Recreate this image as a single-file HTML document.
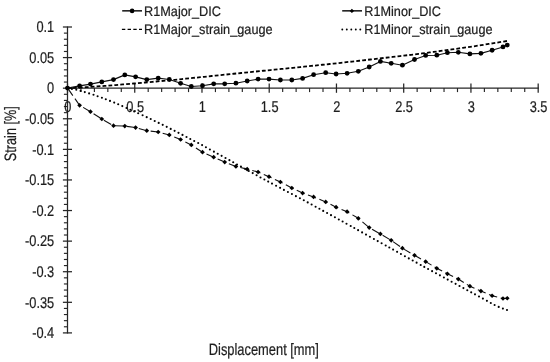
<!DOCTYPE html>
<html><head><meta charset="utf-8"><style>
html,body{margin:0;padding:0;background:#fff;}
svg{display:block;} text{text-rendering:geometricPrecision;}
</style></head><body>
<svg width="550" height="362" viewBox="0 0 550 362">
<rect width="550" height="362" fill="#fff"/>
<line x1="67.5" y1="26.40" x2="67.5" y2="333.50" stroke="#262626" stroke-width="1.25"/>
<line x1="67" y1="88" x2="538.78" y2="88" stroke="#262626" stroke-width="1.25"/>
<line x1="62.9" y1="27.00" x2="72" y2="27.00" stroke="#262626" stroke-width="1.25"/>
<line x1="63.9" y1="33.12" x2="67.5" y2="33.12" stroke="#262626" stroke-width="1.15"/>
<line x1="63.9" y1="39.24" x2="67.5" y2="39.24" stroke="#262626" stroke-width="1.15"/>
<line x1="63.9" y1="45.35" x2="67.5" y2="45.35" stroke="#262626" stroke-width="1.15"/>
<line x1="63.9" y1="51.47" x2="67.5" y2="51.47" stroke="#262626" stroke-width="1.15"/>
<line x1="62.9" y1="57.59" x2="72" y2="57.59" stroke="#262626" stroke-width="1.25"/>
<line x1="63.9" y1="63.71" x2="67.5" y2="63.71" stroke="#262626" stroke-width="1.15"/>
<line x1="63.9" y1="69.83" x2="67.5" y2="69.83" stroke="#262626" stroke-width="1.15"/>
<line x1="63.9" y1="75.94" x2="67.5" y2="75.94" stroke="#262626" stroke-width="1.15"/>
<line x1="63.9" y1="82.06" x2="67.5" y2="82.06" stroke="#262626" stroke-width="1.15"/>
<line x1="62.9" y1="88.18" x2="72" y2="88.18" stroke="#262626" stroke-width="1.25"/>
<line x1="63.9" y1="94.30" x2="67.5" y2="94.30" stroke="#262626" stroke-width="1.15"/>
<line x1="63.9" y1="100.42" x2="67.5" y2="100.42" stroke="#262626" stroke-width="1.15"/>
<line x1="63.9" y1="106.53" x2="67.5" y2="106.53" stroke="#262626" stroke-width="1.15"/>
<line x1="63.9" y1="112.65" x2="67.5" y2="112.65" stroke="#262626" stroke-width="1.15"/>
<line x1="62.9" y1="118.77" x2="72" y2="118.77" stroke="#262626" stroke-width="1.25"/>
<line x1="63.9" y1="124.89" x2="67.5" y2="124.89" stroke="#262626" stroke-width="1.15"/>
<line x1="63.9" y1="131.01" x2="67.5" y2="131.01" stroke="#262626" stroke-width="1.15"/>
<line x1="63.9" y1="137.12" x2="67.5" y2="137.12" stroke="#262626" stroke-width="1.15"/>
<line x1="63.9" y1="143.24" x2="67.5" y2="143.24" stroke="#262626" stroke-width="1.15"/>
<line x1="62.9" y1="149.36" x2="72" y2="149.36" stroke="#262626" stroke-width="1.25"/>
<line x1="63.9" y1="155.48" x2="67.5" y2="155.48" stroke="#262626" stroke-width="1.15"/>
<line x1="63.9" y1="161.60" x2="67.5" y2="161.60" stroke="#262626" stroke-width="1.15"/>
<line x1="63.9" y1="167.71" x2="67.5" y2="167.71" stroke="#262626" stroke-width="1.15"/>
<line x1="63.9" y1="173.83" x2="67.5" y2="173.83" stroke="#262626" stroke-width="1.15"/>
<line x1="62.9" y1="179.95" x2="72" y2="179.95" stroke="#262626" stroke-width="1.25"/>
<line x1="63.9" y1="186.07" x2="67.5" y2="186.07" stroke="#262626" stroke-width="1.15"/>
<line x1="63.9" y1="192.19" x2="67.5" y2="192.19" stroke="#262626" stroke-width="1.15"/>
<line x1="63.9" y1="198.30" x2="67.5" y2="198.30" stroke="#262626" stroke-width="1.15"/>
<line x1="63.9" y1="204.42" x2="67.5" y2="204.42" stroke="#262626" stroke-width="1.15"/>
<line x1="62.9" y1="210.54" x2="72" y2="210.54" stroke="#262626" stroke-width="1.25"/>
<line x1="63.9" y1="216.66" x2="67.5" y2="216.66" stroke="#262626" stroke-width="1.15"/>
<line x1="63.9" y1="222.78" x2="67.5" y2="222.78" stroke="#262626" stroke-width="1.15"/>
<line x1="63.9" y1="228.89" x2="67.5" y2="228.89" stroke="#262626" stroke-width="1.15"/>
<line x1="63.9" y1="235.01" x2="67.5" y2="235.01" stroke="#262626" stroke-width="1.15"/>
<line x1="62.9" y1="241.13" x2="72" y2="241.13" stroke="#262626" stroke-width="1.25"/>
<line x1="63.9" y1="247.25" x2="67.5" y2="247.25" stroke="#262626" stroke-width="1.15"/>
<line x1="63.9" y1="253.37" x2="67.5" y2="253.37" stroke="#262626" stroke-width="1.15"/>
<line x1="63.9" y1="259.48" x2="67.5" y2="259.48" stroke="#262626" stroke-width="1.15"/>
<line x1="63.9" y1="265.60" x2="67.5" y2="265.60" stroke="#262626" stroke-width="1.15"/>
<line x1="62.9" y1="271.72" x2="72" y2="271.72" stroke="#262626" stroke-width="1.25"/>
<line x1="63.9" y1="277.84" x2="67.5" y2="277.84" stroke="#262626" stroke-width="1.15"/>
<line x1="63.9" y1="283.96" x2="67.5" y2="283.96" stroke="#262626" stroke-width="1.15"/>
<line x1="63.9" y1="290.07" x2="67.5" y2="290.07" stroke="#262626" stroke-width="1.15"/>
<line x1="63.9" y1="296.19" x2="67.5" y2="296.19" stroke="#262626" stroke-width="1.15"/>
<line x1="62.9" y1="302.31" x2="72" y2="302.31" stroke="#262626" stroke-width="1.25"/>
<line x1="63.9" y1="308.43" x2="67.5" y2="308.43" stroke="#262626" stroke-width="1.15"/>
<line x1="63.9" y1="314.55" x2="67.5" y2="314.55" stroke="#262626" stroke-width="1.15"/>
<line x1="63.9" y1="320.66" x2="67.5" y2="320.66" stroke="#262626" stroke-width="1.15"/>
<line x1="63.9" y1="326.78" x2="67.5" y2="326.78" stroke="#262626" stroke-width="1.15"/>
<line x1="62.9" y1="332.90" x2="72" y2="332.90" stroke="#262626" stroke-width="1.25"/>
<line x1="67.50" y1="83.5" x2="67.50" y2="92.8" stroke="#262626" stroke-width="1.25"/>
<line x1="80.95" y1="88" x2="80.95" y2="92.1" stroke="#262626" stroke-width="1.15"/>
<line x1="94.40" y1="88" x2="94.40" y2="92.1" stroke="#262626" stroke-width="1.15"/>
<line x1="107.84" y1="88" x2="107.84" y2="92.1" stroke="#262626" stroke-width="1.15"/>
<line x1="121.29" y1="88" x2="121.29" y2="92.1" stroke="#262626" stroke-width="1.15"/>
<line x1="134.74" y1="83.5" x2="134.74" y2="92.8" stroke="#262626" stroke-width="1.25"/>
<line x1="148.19" y1="88" x2="148.19" y2="92.1" stroke="#262626" stroke-width="1.15"/>
<line x1="161.64" y1="88" x2="161.64" y2="92.1" stroke="#262626" stroke-width="1.15"/>
<line x1="175.08" y1="88" x2="175.08" y2="92.1" stroke="#262626" stroke-width="1.15"/>
<line x1="188.53" y1="88" x2="188.53" y2="92.1" stroke="#262626" stroke-width="1.15"/>
<line x1="201.98" y1="83.5" x2="201.98" y2="92.8" stroke="#262626" stroke-width="1.25"/>
<line x1="215.43" y1="88" x2="215.43" y2="92.1" stroke="#262626" stroke-width="1.15"/>
<line x1="228.88" y1="88" x2="228.88" y2="92.1" stroke="#262626" stroke-width="1.15"/>
<line x1="242.32" y1="88" x2="242.32" y2="92.1" stroke="#262626" stroke-width="1.15"/>
<line x1="255.77" y1="88" x2="255.77" y2="92.1" stroke="#262626" stroke-width="1.15"/>
<line x1="269.22" y1="83.5" x2="269.22" y2="92.8" stroke="#262626" stroke-width="1.25"/>
<line x1="282.67" y1="88" x2="282.67" y2="92.1" stroke="#262626" stroke-width="1.15"/>
<line x1="296.12" y1="88" x2="296.12" y2="92.1" stroke="#262626" stroke-width="1.15"/>
<line x1="309.56" y1="88" x2="309.56" y2="92.1" stroke="#262626" stroke-width="1.15"/>
<line x1="323.01" y1="88" x2="323.01" y2="92.1" stroke="#262626" stroke-width="1.15"/>
<line x1="336.46" y1="83.5" x2="336.46" y2="92.8" stroke="#262626" stroke-width="1.25"/>
<line x1="349.91" y1="88" x2="349.91" y2="92.1" stroke="#262626" stroke-width="1.15"/>
<line x1="363.36" y1="88" x2="363.36" y2="92.1" stroke="#262626" stroke-width="1.15"/>
<line x1="376.80" y1="88" x2="376.80" y2="92.1" stroke="#262626" stroke-width="1.15"/>
<line x1="390.25" y1="88" x2="390.25" y2="92.1" stroke="#262626" stroke-width="1.15"/>
<line x1="403.70" y1="83.5" x2="403.70" y2="92.8" stroke="#262626" stroke-width="1.25"/>
<line x1="417.15" y1="88" x2="417.15" y2="92.1" stroke="#262626" stroke-width="1.15"/>
<line x1="430.60" y1="88" x2="430.60" y2="92.1" stroke="#262626" stroke-width="1.15"/>
<line x1="444.04" y1="88" x2="444.04" y2="92.1" stroke="#262626" stroke-width="1.15"/>
<line x1="457.49" y1="88" x2="457.49" y2="92.1" stroke="#262626" stroke-width="1.15"/>
<line x1="470.94" y1="83.5" x2="470.94" y2="92.8" stroke="#262626" stroke-width="1.25"/>
<line x1="484.39" y1="88" x2="484.39" y2="92.1" stroke="#262626" stroke-width="1.15"/>
<line x1="497.84" y1="88" x2="497.84" y2="92.1" stroke="#262626" stroke-width="1.15"/>
<line x1="511.28" y1="88" x2="511.28" y2="92.1" stroke="#262626" stroke-width="1.15"/>
<line x1="524.73" y1="88" x2="524.73" y2="92.1" stroke="#262626" stroke-width="1.15"/>
<line x1="538.18" y1="83.5" x2="538.18" y2="92.8" stroke="#262626" stroke-width="1.25"/>
<g font-family="Liberation Sans, Arial, sans-serif" fill="#1e1e1e" stroke="#1e1e1e" stroke-width="0.22" font-size="15.5">
<text transform="translate(54.2,32.30) scale(0.826,1)" text-anchor="end">0.1</text>
<text transform="translate(54.2,62.89) scale(0.826,1)" text-anchor="end">0.05</text>
<text transform="translate(54.2,93.48) scale(0.826,1)" text-anchor="end">0</text>
<text transform="translate(54.2,124.07) scale(0.826,1)" text-anchor="end">-0.05</text>
<text transform="translate(54.2,154.66) scale(0.826,1)" text-anchor="end">-0.1</text>
<text transform="translate(54.2,185.25) scale(0.826,1)" text-anchor="end">-0.15</text>
<text transform="translate(54.2,215.84) scale(0.826,1)" text-anchor="end">-0.2</text>
<text transform="translate(54.2,246.43) scale(0.826,1)" text-anchor="end">-0.25</text>
<text transform="translate(54.2,277.02) scale(0.826,1)" text-anchor="end">-0.3</text>
<text transform="translate(54.2,307.61) scale(0.826,1)" text-anchor="end">-0.35</text>
<text transform="translate(54.2,338.20) scale(0.826,1)" text-anchor="end">-0.4</text>
<text transform="translate(67.90,112.2) scale(0.826,1)" text-anchor="middle">0</text>
<text transform="translate(135.14,112.2) scale(0.826,1)" text-anchor="middle">0.5</text>
<text transform="translate(202.38,112.2) scale(0.826,1)" text-anchor="middle">1</text>
<text transform="translate(269.62,112.2) scale(0.826,1)" text-anchor="middle">1.5</text>
<text transform="translate(336.86,112.2) scale(0.826,1)" text-anchor="middle">2</text>
<text transform="translate(404.10,112.2) scale(0.826,1)" text-anchor="middle">2.5</text>
<text transform="translate(471.34,112.2) scale(0.826,1)" text-anchor="middle">3</text>
<text transform="translate(538.58,112.2) scale(0.826,1)" text-anchor="middle">3.5</text>
</g>
<g font-family="Liberation Sans, Arial, sans-serif" fill="#1e1e1e" stroke="#1e1e1e" stroke-width="0.22" font-size="16.5">
<text transform="translate(263.8,355) scale(0.78,1)" text-anchor="middle">Displacement [mm]</text>
<text transform="translate(15.6,133.7) rotate(-90) scale(0.77,1)" text-anchor="middle">Strain [%]</text>
</g>
<polyline points="67.50,88.18 71.19,88.02 74.89,87.84 78.58,87.64 82.28,87.43 85.97,87.20 89.67,86.97 93.36,86.72 97.06,86.47 100.75,86.20 104.45,85.92 108.14,85.64 111.84,85.34 115.53,85.04 119.23,84.74 122.92,84.43 126.62,84.12 130.31,83.80 134.01,83.48 137.70,83.16 141.40,82.83 145.09,82.50 148.79,82.17 152.48,81.84 156.18,81.51 159.87,81.17 163.57,80.84 167.26,80.50 170.96,80.15 174.65,79.80 178.35,79.45 182.04,79.08 185.74,78.71 189.43,78.33 193.13,77.95 196.82,77.56 200.52,77.18 204.21,76.79 207.91,76.41 211.60,76.02 215.30,75.63 218.99,75.25 222.69,74.87 226.38,74.50 230.08,74.13 233.77,73.75 237.47,73.37 241.16,73.00 244.86,72.62 248.55,72.25 252.25,71.87 255.94,71.50 259.64,71.14 263.33,70.77 267.03,70.40 270.72,70.03 274.42,69.66 278.11,69.30 281.81,68.93 285.50,68.58 289.20,68.22 292.89,67.85 296.59,67.47 300.28,67.09 303.98,66.70 307.67,66.31 311.37,65.93 315.06,65.54 318.76,65.16 322.45,64.77 326.15,64.38 329.84,63.99 333.54,63.59 337.23,63.19 340.93,62.78 344.62,62.37 348.32,61.96 352.01,61.56 355.71,61.15 359.40,60.74 363.10,60.33 366.79,59.91 370.49,59.49 374.18,59.07 377.88,58.65 381.57,58.22 385.27,57.79 388.96,57.35 392.66,56.92 396.35,56.49 400.05,56.06 403.74,55.64 407.44,55.22 411.13,54.78 414.83,54.34 418.52,53.89 422.22,53.43 425.91,52.95 429.61,52.47 433.30,51.98 437.00,51.47 440.69,50.96 444.39,50.44 448.08,49.93 451.78,49.41 455.47,48.89 459.17,48.38 462.86,47.86 466.56,47.35 470.25,46.83 473.95,46.29 477.64,45.73 481.34,45.15 485.03,44.56 488.73,43.96 492.42,43.36 496.12,42.76 499.81,42.16 503.51,41.56 507.20,40.95" fill="none" stroke="#000" stroke-width="1.8" stroke-dasharray="3.8 2.13" stroke-dashoffset="0.49"/>
<circle cx="71.90" cy="88.88" r="1.05" fill="#000"/>
<circle cx="76.30" cy="89.82" r="1.05" fill="#000"/>
<circle cx="80.60" cy="90.89" r="1.05" fill="#000"/>
<circle cx="84.80" cy="92.10" r="1.05" fill="#000"/>
<circle cx="89.10" cy="93.42" r="1.05" fill="#000"/>
<circle cx="93.50" cy="94.82" r="1.05" fill="#000"/>
<circle cx="97.60" cy="96.21" r="1.05" fill="#000"/>
<circle cx="101.90" cy="97.76" r="1.05" fill="#000"/>
<circle cx="105.80" cy="99.23" r="1.05" fill="#000"/>
<circle cx="110.00" cy="100.88" r="1.05" fill="#000"/>
<circle cx="114.20" cy="102.59" r="1.05" fill="#000"/>
<circle cx="118.20" cy="104.28" r="1.05" fill="#000"/>
<circle cx="122.30" cy="106.08" r="1.05" fill="#000"/>
<circle cx="126.50" cy="107.96" r="1.05" fill="#000"/>
<circle cx="130.35" cy="109.70" r="1.05" fill="#000"/>
<circle cx="134.20" cy="111.42" r="1.05" fill="#000"/>
<circle cx="138.20" cy="113.22" r="1.05" fill="#000"/>
<circle cx="142.60" cy="115.23" r="1.05" fill="#000"/>
<circle cx="146.70" cy="117.15" r="1.05" fill="#000"/>
<circle cx="150.70" cy="119.03" r="1.05" fill="#000"/>
<circle cx="154.70" cy="120.94" r="1.05" fill="#000"/>
<circle cx="158.70" cy="122.88" r="1.05" fill="#000"/>
<circle cx="162.70" cy="124.86" r="1.05" fill="#000"/>
<circle cx="166.70" cy="126.87" r="1.05" fill="#000"/>
<circle cx="170.70" cy="128.89" r="1.05" fill="#000"/>
<circle cx="174.60" cy="130.86" r="1.05" fill="#000"/>
<circle cx="178.50" cy="132.84" r="1.05" fill="#000"/>
<circle cx="182.50" cy="134.88" r="1.05" fill="#000"/>
<circle cx="186.50" cy="136.95" r="1.05" fill="#000"/>
<circle cx="190.30" cy="138.93" r="1.05" fill="#000"/>
<circle cx="194.20" cy="140.96" r="1.05" fill="#000"/>
<circle cx="198.20" cy="143.03" r="1.05" fill="#000"/>
<circle cx="202.10" cy="145.10" r="1.05" fill="#000"/>
<circle cx="205.90" cy="147.20" r="1.05" fill="#000"/>
<circle cx="209.90" cy="149.44" r="1.05" fill="#000"/>
<circle cx="213.90" cy="151.66" r="1.05" fill="#000"/>
<circle cx="217.70" cy="153.75" r="1.05" fill="#000"/>
<circle cx="221.60" cy="155.87" r="1.05" fill="#000"/>
<circle cx="225.50" cy="158.01" r="1.05" fill="#000"/>
<circle cx="229.40" cy="160.17" r="1.05" fill="#000"/>
<circle cx="233.20" cy="162.30" r="1.05" fill="#000"/>
<circle cx="237.00" cy="164.43" r="1.05" fill="#000"/>
<circle cx="240.93" cy="166.59" r="1.05" fill="#000"/>
<circle cx="244.85" cy="168.77" r="1.05" fill="#000"/>
<circle cx="248.77" cy="170.94" r="1.05" fill="#000"/>
<circle cx="252.70" cy="173.12" r="1.05" fill="#000"/>
<circle cx="256.60" cy="175.29" r="1.05" fill="#000"/>
<circle cx="260.50" cy="177.43" r="1.05" fill="#000"/>
<circle cx="264.40" cy="179.55" r="1.05" fill="#000"/>
<circle cx="268.20" cy="181.58" r="1.05" fill="#000"/>
<circle cx="272.00" cy="183.59" r="1.05" fill="#000"/>
<circle cx="276.10" cy="185.75" r="1.05" fill="#000"/>
<circle cx="280.10" cy="187.87" r="1.05" fill="#000"/>
<circle cx="283.90" cy="189.88" r="1.05" fill="#000"/>
<circle cx="287.90" cy="191.97" r="1.05" fill="#000"/>
<circle cx="291.90" cy="194.05" r="1.05" fill="#000"/>
<circle cx="295.90" cy="196.14" r="1.05" fill="#000"/>
<circle cx="299.90" cy="198.25" r="1.05" fill="#000"/>
<circle cx="303.80" cy="200.32" r="1.05" fill="#000"/>
<circle cx="307.70" cy="202.40" r="1.05" fill="#000"/>
<circle cx="311.60" cy="204.51" r="1.05" fill="#000"/>
<circle cx="315.60" cy="206.72" r="1.05" fill="#000"/>
<circle cx="319.40" cy="208.82" r="1.05" fill="#000"/>
<circle cx="323.20" cy="210.89" r="1.05" fill="#000"/>
<circle cx="327.10" cy="213.00" r="1.05" fill="#000"/>
<circle cx="331.00" cy="215.14" r="1.05" fill="#000"/>
<circle cx="334.90" cy="217.30" r="1.05" fill="#000"/>
<circle cx="338.80" cy="219.47" r="1.05" fill="#000"/>
<circle cx="342.60" cy="221.55" r="1.05" fill="#000"/>
<circle cx="346.50" cy="223.68" r="1.05" fill="#000"/>
<circle cx="350.70" cy="225.99" r="1.05" fill="#000"/>
<circle cx="354.30" cy="228.01" r="1.05" fill="#000"/>
<circle cx="358.10" cy="230.17" r="1.05" fill="#000"/>
<circle cx="362.10" cy="232.42" r="1.05" fill="#000"/>
<circle cx="366.00" cy="234.61" r="1.05" fill="#000"/>
<circle cx="369.90" cy="236.79" r="1.05" fill="#000"/>
<circle cx="373.90" cy="239.03" r="1.05" fill="#000"/>
<circle cx="377.70" cy="241.12" r="1.05" fill="#000"/>
<circle cx="381.60" cy="243.25" r="1.05" fill="#000"/>
<circle cx="385.70" cy="245.49" r="1.05" fill="#000"/>
<circle cx="389.30" cy="247.48" r="1.05" fill="#000"/>
<circle cx="393.10" cy="249.61" r="1.05" fill="#000"/>
<circle cx="397.10" cy="251.86" r="1.05" fill="#000"/>
<circle cx="400.90" cy="253.99" r="1.05" fill="#000"/>
<circle cx="404.90" cy="256.22" r="1.05" fill="#000"/>
<circle cx="408.80" cy="258.38" r="1.05" fill="#000"/>
<circle cx="412.70" cy="260.51" r="1.05" fill="#000"/>
<circle cx="416.60" cy="262.66" r="1.05" fill="#000"/>
<circle cx="420.70" cy="264.93" r="1.05" fill="#000"/>
<circle cx="424.30" cy="266.92" r="1.05" fill="#000"/>
<circle cx="428.10" cy="269.00" r="1.05" fill="#000"/>
<circle cx="432.10" cy="271.15" r="1.05" fill="#000"/>
<circle cx="436.00" cy="273.25" r="1.05" fill="#000"/>
<circle cx="439.90" cy="275.37" r="1.05" fill="#000"/>
<circle cx="443.90" cy="277.55" r="1.05" fill="#000"/>
<circle cx="447.70" cy="279.61" r="1.05" fill="#000"/>
<circle cx="451.60" cy="281.70" r="1.05" fill="#000"/>
<circle cx="455.60" cy="283.83" r="1.05" fill="#000"/>
<circle cx="459.50" cy="285.96" r="1.05" fill="#000"/>
<circle cx="463.40" cy="288.09" r="1.05" fill="#000"/>
<circle cx="467.30" cy="290.21" r="1.05" fill="#000"/>
<circle cx="471.20" cy="292.34" r="1.05" fill="#000"/>
<circle cx="475.00" cy="294.35" r="1.05" fill="#000"/>
<circle cx="479.00" cy="296.49" r="1.05" fill="#000"/>
<circle cx="482.90" cy="298.62" r="1.05" fill="#000"/>
<circle cx="486.90" cy="300.83" r="1.05" fill="#000"/>
<circle cx="490.80" cy="302.97" r="1.05" fill="#000"/>
<circle cx="494.60" cy="304.96" r="1.05" fill="#000"/>
<circle cx="498.70" cy="306.89" r="1.05" fill="#000"/>
<circle cx="502.90" cy="308.59" r="1.05" fill="#000"/>
<circle cx="507.00" cy="309.97" r="1.05" fill="#000"/>
<polyline points="67.50,88.10 79.60,85.90 90.50,84.10 101.80,81.90 113.50,79.60 124.80,74.90 135.60,76.85 146.80,79.60 158.20,78.15 169.30,79.50 180.60,83.30 191.30,86.50 202.50,85.75 213.70,83.85 224.70,83.80 235.90,83.20 247.20,81.00 258.10,79.10 269.00,79.10 280.40,80.00 291.80,80.00 302.60,78.40 313.60,74.70 325.70,72.70 336.10,74.00 347.10,73.30 358.30,71.30 369.20,67.00 380.40,61.40 391.20,63.30 402.40,65.20 414.50,59.50 425.70,55.45 436.80,55.20 447.40,52.70 458.30,52.30 469.90,53.90 480.90,53.35 492.10,50.25 503.00,46.95 507.25,45.10" fill="none" stroke="#111" stroke-width="1.15" stroke-linejoin="round"/>
<circle cx="67.5" cy="88.1" r="2.4" fill="#000"/>
<circle cx="79.6" cy="85.9" r="2.4" fill="#000"/>
<circle cx="90.5" cy="84.1" r="2.4" fill="#000"/>
<circle cx="101.8" cy="81.9" r="2.4" fill="#000"/>
<circle cx="113.5" cy="79.6" r="2.4" fill="#000"/>
<circle cx="124.8" cy="74.9" r="2.4" fill="#000"/>
<circle cx="135.6" cy="76.85" r="2.4" fill="#000"/>
<circle cx="146.8" cy="79.6" r="2.4" fill="#000"/>
<circle cx="158.2" cy="78.15" r="2.4" fill="#000"/>
<circle cx="169.3" cy="79.5" r="2.4" fill="#000"/>
<circle cx="180.6" cy="83.3" r="2.4" fill="#000"/>
<circle cx="191.3" cy="86.5" r="2.4" fill="#000"/>
<circle cx="202.5" cy="85.75" r="2.4" fill="#000"/>
<circle cx="213.7" cy="83.85" r="2.4" fill="#000"/>
<circle cx="224.7" cy="83.8" r="2.4" fill="#000"/>
<circle cx="235.9" cy="83.2" r="2.4" fill="#000"/>
<circle cx="247.2" cy="81.0" r="2.4" fill="#000"/>
<circle cx="258.1" cy="79.1" r="2.4" fill="#000"/>
<circle cx="269.0" cy="79.1" r="2.4" fill="#000"/>
<circle cx="280.4" cy="80.0" r="2.4" fill="#000"/>
<circle cx="291.8" cy="80.0" r="2.4" fill="#000"/>
<circle cx="302.6" cy="78.4" r="2.4" fill="#000"/>
<circle cx="313.6" cy="74.7" r="2.4" fill="#000"/>
<circle cx="325.7" cy="72.7" r="2.4" fill="#000"/>
<circle cx="336.1" cy="74.0" r="2.4" fill="#000"/>
<circle cx="347.1" cy="73.3" r="2.4" fill="#000"/>
<circle cx="358.3" cy="71.3" r="2.4" fill="#000"/>
<circle cx="369.2" cy="67.0" r="2.4" fill="#000"/>
<circle cx="380.4" cy="61.4" r="2.4" fill="#000"/>
<circle cx="391.2" cy="63.3" r="2.4" fill="#000"/>
<circle cx="402.4" cy="65.2" r="2.4" fill="#000"/>
<circle cx="414.5" cy="59.5" r="2.4" fill="#000"/>
<circle cx="425.7" cy="55.45" r="2.4" fill="#000"/>
<circle cx="436.8" cy="55.2" r="2.4" fill="#000"/>
<circle cx="447.4" cy="52.7" r="2.4" fill="#000"/>
<circle cx="458.3" cy="52.3" r="2.4" fill="#000"/>
<circle cx="469.9" cy="53.9" r="2.4" fill="#000"/>
<circle cx="480.9" cy="53.35" r="2.4" fill="#000"/>
<circle cx="492.1" cy="50.25" r="2.4" fill="#000"/>
<circle cx="503.0" cy="46.95" r="2.4" fill="#000"/>
<circle cx="507.25" cy="45.1" r="2.4" fill="#000"/>
<polyline points="67.50,88.00 79.60,105.30 90.50,111.70 101.80,119.00 113.50,125.70 124.80,126.10 135.60,127.60 146.80,130.70 158.20,132.00 169.30,134.90 180.60,139.50 191.30,144.90 202.50,152.20 213.70,157.15 224.70,162.10 235.90,166.40 247.20,169.15 258.10,172.00 269.00,176.65 280.40,182.00 291.80,188.00 302.60,193.10 313.60,196.95 325.70,201.90 336.10,207.20 347.10,211.70 358.30,218.30 369.20,227.60 380.40,233.95 391.20,240.35 402.40,248.20 414.50,255.30 425.70,261.65 436.80,268.30 447.40,273.85 458.30,279.10 469.90,286.20 480.90,291.05 492.10,295.75 503.00,298.50 507.25,298.25" fill="none" stroke="#111" stroke-width="1.1" stroke-dasharray="8.5 3.7" stroke-dashoffset="-0.8"/>
<path d="M65.15,88.00L67.50,85.65L69.85,88.00L67.50,90.35Z" fill="#000"/>
<path d="M77.25,105.30L79.60,102.95L81.95,105.30L79.60,107.65Z" fill="#000"/>
<path d="M88.15,111.70L90.50,109.35L92.85,111.70L90.50,114.05Z" fill="#000"/>
<path d="M99.45,119.00L101.80,116.65L104.15,119.00L101.80,121.35Z" fill="#000"/>
<path d="M111.15,125.70L113.50,123.35L115.85,125.70L113.50,128.05Z" fill="#000"/>
<path d="M122.45,126.10L124.80,123.75L127.15,126.10L124.80,128.45Z" fill="#000"/>
<path d="M133.25,127.60L135.60,125.25L137.95,127.60L135.60,129.95Z" fill="#000"/>
<path d="M144.45,130.70L146.80,128.35L149.15,130.70L146.80,133.05Z" fill="#000"/>
<path d="M155.85,132.00L158.20,129.65L160.55,132.00L158.20,134.35Z" fill="#000"/>
<path d="M166.95,134.90L169.30,132.55L171.65,134.90L169.30,137.25Z" fill="#000"/>
<path d="M178.25,139.50L180.60,137.15L182.95,139.50L180.60,141.85Z" fill="#000"/>
<path d="M188.95,144.90L191.30,142.55L193.65,144.90L191.30,147.25Z" fill="#000"/>
<path d="M200.15,152.20L202.50,149.85L204.85,152.20L202.50,154.55Z" fill="#000"/>
<path d="M211.35,157.15L213.70,154.80L216.05,157.15L213.70,159.50Z" fill="#000"/>
<path d="M222.35,162.10L224.70,159.75L227.05,162.10L224.70,164.45Z" fill="#000"/>
<path d="M233.55,166.40L235.90,164.05L238.25,166.40L235.90,168.75Z" fill="#000"/>
<path d="M244.85,169.15L247.20,166.80L249.55,169.15L247.20,171.50Z" fill="#000"/>
<path d="M255.75,172.00L258.10,169.65L260.45,172.00L258.10,174.35Z" fill="#000"/>
<path d="M266.65,176.65L269.00,174.30L271.35,176.65L269.00,179.00Z" fill="#000"/>
<path d="M278.05,182.00L280.40,179.65L282.75,182.00L280.40,184.35Z" fill="#000"/>
<path d="M289.45,188.00L291.80,185.65L294.15,188.00L291.80,190.35Z" fill="#000"/>
<path d="M300.25,193.10L302.60,190.75L304.95,193.10L302.60,195.45Z" fill="#000"/>
<path d="M311.25,196.95L313.60,194.60L315.95,196.95L313.60,199.30Z" fill="#000"/>
<path d="M323.35,201.90L325.70,199.55L328.05,201.90L325.70,204.25Z" fill="#000"/>
<path d="M333.75,207.20L336.10,204.85L338.45,207.20L336.10,209.55Z" fill="#000"/>
<path d="M344.75,211.70L347.10,209.35L349.45,211.70L347.10,214.05Z" fill="#000"/>
<path d="M355.95,218.30L358.30,215.95L360.65,218.30L358.30,220.65Z" fill="#000"/>
<path d="M366.85,227.60L369.20,225.25L371.55,227.60L369.20,229.95Z" fill="#000"/>
<path d="M378.05,233.95L380.40,231.60L382.75,233.95L380.40,236.30Z" fill="#000"/>
<path d="M388.85,240.35L391.20,238.00L393.55,240.35L391.20,242.70Z" fill="#000"/>
<path d="M400.05,248.20L402.40,245.85L404.75,248.20L402.40,250.55Z" fill="#000"/>
<path d="M412.15,255.30L414.50,252.95L416.85,255.30L414.50,257.65Z" fill="#000"/>
<path d="M423.35,261.65L425.70,259.30L428.05,261.65L425.70,264.00Z" fill="#000"/>
<path d="M434.45,268.30L436.80,265.95L439.15,268.30L436.80,270.65Z" fill="#000"/>
<path d="M445.05,273.85L447.40,271.50L449.75,273.85L447.40,276.20Z" fill="#000"/>
<path d="M455.95,279.10L458.30,276.75L460.65,279.10L458.30,281.45Z" fill="#000"/>
<path d="M467.55,286.20L469.90,283.85L472.25,286.20L469.90,288.55Z" fill="#000"/>
<path d="M478.55,291.05L480.90,288.70L483.25,291.05L480.90,293.40Z" fill="#000"/>
<path d="M489.75,295.75L492.10,293.40L494.45,295.75L492.10,298.10Z" fill="#000"/>
<path d="M500.65,298.50L503.00,296.15L505.35,298.50L503.00,300.85Z" fill="#000"/>
<path d="M504.90,298.25L507.25,295.90L509.60,298.25L507.25,300.60Z" fill="#000"/>
<line x1="122.2" y1="10.85" x2="142" y2="10.85" stroke="#000" stroke-width="1.4"/>
<circle cx="132.1" cy="10.9" r="2.3" fill="#000"/>
<line x1="121.9" y1="29.4" x2="142" y2="29.4" stroke="#000" stroke-width="1.4" stroke-dasharray="3.4 2.3"/>
<line x1="342.2" y1="10.85" x2="362" y2="10.85" stroke="#000" stroke-width="1.4"/>
<path d="M349.7,10.9L351.9,8.7L354.1,10.9L351.9,13.1Z" fill="#000"/>
<circle cx="342.3" cy="29.5" r="0.95" fill="#000"/>
<circle cx="346.8" cy="29.5" r="0.95" fill="#000"/>
<circle cx="351.3" cy="29.5" r="0.95" fill="#000"/>
<circle cx="355.8" cy="29.5" r="0.95" fill="#000"/>
<circle cx="360.3" cy="29.5" r="0.95" fill="#000"/>
<g font-family="Liberation Sans, Arial, sans-serif" fill="#1e1e1e" stroke="#1e1e1e" stroke-width="0.22">
<text x="144.0" y="16.1" font-size="13.8" textLength="77.0" lengthAdjust="spacingAndGlyphs">R1Major_DIC</text>
<text x="144.0" y="33.6" font-size="13.8" textLength="128.6" lengthAdjust="spacingAndGlyphs">R1Major_strain_gauge</text>
<text x="364.3" y="16.1" font-size="13.8" textLength="76.7" lengthAdjust="spacingAndGlyphs">R1Minor_DIC</text>
<text x="364.3" y="33.6" font-size="13.8" textLength="128.2" lengthAdjust="spacingAndGlyphs">R1Minor_strain_gauge</text>
</g>
</svg>
</body></html>
